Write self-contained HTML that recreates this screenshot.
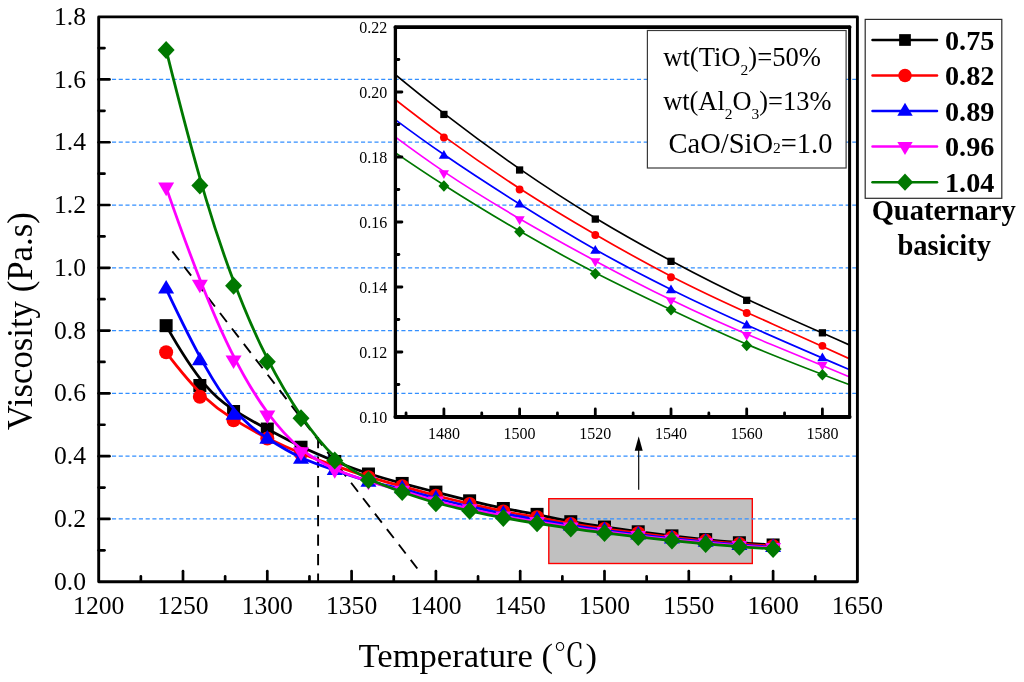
<!DOCTYPE html>
<html><head><meta charset="utf-8"><title>Viscosity vs Temperature</title>
<style>html,body{margin:0;padding:0;background:#fff}body{width:1024px;height:682px;overflow:hidden}</style></head>
<body>
<svg width="1024" height="682" viewBox="0 0 1024 682" style="display:block;font-family:'Liberation Serif','Noto Serif CJK SC',serif">
<rect width="1024" height="682" fill="#fff"/>
<rect x="548.8" y="498.7" width="203.5" height="64.8" fill="#c0c0c0" stroke="#ff0000" stroke-width="1.4"/>
<line x1="112" x2="856" y1="518.92" y2="518.92" stroke="#338fff" stroke-width="1.25" stroke-dasharray="4.1 2.63"/>
<line x1="112" x2="856" y1="456.14" y2="456.14" stroke="#338fff" stroke-width="1.25" stroke-dasharray="4.1 2.63"/>
<line x1="112" x2="856" y1="393.36" y2="393.36" stroke="#338fff" stroke-width="1.25" stroke-dasharray="4.1 2.63"/>
<line x1="112" x2="856" y1="330.58" y2="330.58" stroke="#338fff" stroke-width="1.25" stroke-dasharray="4.1 2.63"/>
<line x1="112" x2="856" y1="267.80" y2="267.80" stroke="#338fff" stroke-width="1.25" stroke-dasharray="4.1 2.63"/>
<line x1="112" x2="856" y1="205.02" y2="205.02" stroke="#338fff" stroke-width="1.25" stroke-dasharray="4.1 2.63"/>
<line x1="112" x2="856" y1="142.24" y2="142.24" stroke="#338fff" stroke-width="1.25" stroke-dasharray="4.1 2.63"/>
<line x1="112" x2="856" y1="79.46" y2="79.46" stroke="#338fff" stroke-width="1.25" stroke-dasharray="4.1 2.63"/>
<line x1="172.3" y1="251.3" x2="417.3" y2="568.5" stroke="#000" stroke-width="1.9" stroke-dasharray="11.3 8.2"/>
<line x1="318.1" y1="437" x2="318.1" y2="581" stroke="#000" stroke-width="1.9" stroke-dasharray="11.3 8.2"/>
<path d="M166.14 325.66 C199.86 385.50 216.72 398.50 230.77 407.93 C244.82 417.35 256.06 423.20 267.30 429.15 C278.54 435.11 289.78 441.16 301.02 446.57 C312.26 451.97 323.50 456.72 334.74 461.19 C345.98 465.65 357.22 469.83 368.46 473.49 C379.70 477.15 390.94 480.29 402.18 483.31 C413.42 486.33 424.66 489.22 435.90 492.12 C447.14 495.01 458.38 497.90 469.62 500.63 C480.86 503.36 492.10 505.93 503.34 508.19 C514.58 510.46 525.82 512.41 537.06 514.61 C548.30 516.80 559.54 519.25 570.78 521.36 C582.02 523.48 593.26 525.26 604.50 526.95 C615.74 528.63 626.98 530.20 638.22 531.67 C649.46 533.14 660.70 534.50 671.94 535.80 C683.18 537.11 694.42 538.36 708.47 539.77 C722.52 541.18 739.38 542.75 773.10 544.97" fill="none" stroke="#000000" stroke-width="2.8" stroke-linejoin="round"/>
<rect x="159.64" y="319.16" width="13.00" height="13.00" fill="#000000"/>
<rect x="193.36" y="379.00" width="13.00" height="13.00" fill="#000000"/>
<rect x="227.08" y="405.00" width="13.00" height="13.00" fill="#000000"/>
<rect x="260.80" y="422.55" width="13.00" height="13.00" fill="#000000"/>
<rect x="294.52" y="440.72" width="13.00" height="13.00" fill="#000000"/>
<rect x="328.24" y="454.98" width="13.00" height="13.00" fill="#000000"/>
<rect x="361.96" y="467.51" width="13.00" height="13.00" fill="#000000"/>
<rect x="395.68" y="476.94" width="13.00" height="13.00" fill="#000000"/>
<rect x="429.40" y="485.62" width="13.00" height="13.00" fill="#000000"/>
<rect x="463.12" y="494.30" width="13.00" height="13.00" fill="#000000"/>
<rect x="496.84" y="502.00" width="13.00" height="13.00" fill="#000000"/>
<rect x="530.56" y="507.86" width="13.00" height="13.00" fill="#000000"/>
<rect x="564.28" y="515.19" width="13.00" height="13.00" fill="#000000"/>
<rect x="598.00" y="520.55" width="13.00" height="13.00" fill="#000000"/>
<rect x="631.72" y="525.28" width="13.00" height="13.00" fill="#000000"/>
<rect x="665.44" y="529.35" width="13.00" height="13.00" fill="#000000"/>
<rect x="699.16" y="533.11" width="13.00" height="13.00" fill="#000000"/>
<rect x="732.88" y="536.25" width="13.00" height="13.00" fill="#000000"/>
<rect x="766.60" y="538.47" width="13.00" height="13.00" fill="#000000"/>
<path d="M166.14 352.29 C199.86 396.78 216.72 408.53 230.77 417.43 C244.82 426.33 256.06 432.39 267.30 437.98 C278.54 443.57 289.78 448.68 301.02 453.23 C312.26 457.77 323.50 461.74 334.74 465.65 C345.98 469.57 357.22 473.43 368.46 476.85 C379.70 480.27 390.94 483.24 402.18 486.31 C413.42 489.38 424.66 492.55 435.90 495.52 C447.14 498.48 458.38 501.25 469.62 503.88 C480.86 506.51 492.10 509.01 503.34 511.21 C514.58 513.41 525.82 515.31 537.06 517.38 C548.30 519.44 559.54 521.68 570.78 523.63 C582.02 525.59 593.26 527.26 604.50 528.83 C615.74 530.39 626.98 531.85 638.22 533.26 C649.46 534.67 660.70 536.03 671.94 537.28 C683.18 538.54 694.42 539.69 708.47 541.05 C722.52 542.42 739.38 544.00 773.10 546.13" fill="none" stroke="#ff0000" stroke-width="2.8" stroke-linejoin="round"/>
<circle cx="166.14" cy="352.29" r="7.00" fill="#ff0000"/>
<circle cx="199.86" cy="396.78" r="7.00" fill="#ff0000"/>
<circle cx="233.58" cy="420.28" r="7.00" fill="#ff0000"/>
<circle cx="267.30" cy="438.45" r="7.00" fill="#ff0000"/>
<circle cx="301.02" cy="453.80" r="7.00" fill="#ff0000"/>
<circle cx="334.74" cy="465.71" r="7.00" fill="#ff0000"/>
<circle cx="368.46" cy="477.30" r="7.00" fill="#ff0000"/>
<circle cx="402.18" cy="486.22" r="7.00" fill="#ff0000"/>
<circle cx="435.90" cy="495.72" r="7.00" fill="#ff0000"/>
<circle cx="469.62" cy="504.01" r="7.00" fill="#ff0000"/>
<circle cx="503.34" cy="511.51" r="7.00" fill="#ff0000"/>
<circle cx="537.06" cy="517.21" r="7.00" fill="#ff0000"/>
<circle cx="570.78" cy="523.92" r="7.00" fill="#ff0000"/>
<circle cx="604.50" cy="528.93" r="7.00" fill="#ff0000"/>
<circle cx="638.22" cy="533.32" r="7.00" fill="#ff0000"/>
<circle cx="671.94" cy="537.39" r="7.00" fill="#ff0000"/>
<circle cx="705.66" cy="540.83" r="7.00" fill="#ff0000"/>
<circle cx="739.38" cy="544.00" r="7.00" fill="#ff0000"/>
<circle cx="773.10" cy="546.13" r="7.00" fill="#ff0000"/>
<path d="M166.14 288.82 C199.86 360.56 216.72 387.74 230.77 405.32 C244.82 422.91 256.06 430.90 267.30 438.23 C278.54 445.57 289.78 452.25 301.02 457.46 C312.26 462.66 323.50 466.37 334.74 470.22 C345.98 474.06 357.22 478.03 368.46 481.09 C379.70 484.15 390.94 486.30 402.18 489.06 C413.42 491.83 424.66 495.22 435.90 498.25 C447.14 501.27 458.38 503.93 469.62 506.49 C480.86 509.04 492.10 511.48 503.34 513.63 C514.58 515.78 525.82 517.64 537.06 519.60 C548.30 521.55 559.54 523.61 570.78 525.43 C582.02 527.24 593.26 528.80 604.50 530.33 C615.74 531.85 626.98 533.34 638.22 534.72 C649.46 536.09 660.70 537.37 671.94 538.57 C683.18 539.77 694.42 540.90 708.47 542.25 C722.52 543.61 739.38 545.19 773.10 547.23" fill="none" stroke="#0000ff" stroke-width="2.8" stroke-linejoin="round"/>
<polygon points="166.14,280.02 158.14,293.62 174.14,293.62" fill="#0000ff"/>
<polygon points="199.86,351.76 191.86,365.36 207.86,365.36" fill="#0000ff"/>
<polygon points="233.58,406.12 225.58,419.72 241.58,419.72" fill="#0000ff"/>
<polygon points="267.30,430.09 259.30,443.69 275.30,443.69" fill="#0000ff"/>
<polygon points="301.02,450.14 293.02,463.74 309.02,463.74" fill="#0000ff"/>
<polygon points="334.74,461.29 326.74,474.89 342.74,474.89" fill="#0000ff"/>
<polygon points="368.46,473.20 360.46,486.80 376.46,486.80" fill="#0000ff"/>
<polygon points="402.18,479.65 394.18,493.25 410.18,493.25" fill="#0000ff"/>
<polygon points="435.90,489.81 427.90,503.41 443.90,503.41" fill="#0000ff"/>
<polygon points="469.62,497.80 461.62,511.40 477.62,511.40" fill="#0000ff"/>
<polygon points="503.34,505.13 495.34,518.73 511.34,518.73" fill="#0000ff"/>
<polygon points="537.06,510.70 529.06,524.30 545.06,524.30" fill="#0000ff"/>
<polygon points="570.78,516.87 562.78,530.47 578.78,530.47" fill="#0000ff"/>
<polygon points="604.50,521.57 596.50,535.17 612.50,535.17" fill="#0000ff"/>
<polygon points="638.22,526.02 630.22,539.62 646.22,539.62" fill="#0000ff"/>
<polygon points="671.94,529.84 663.94,543.44 679.94,543.44" fill="#0000ff"/>
<polygon points="705.66,533.23 697.66,546.83 713.66,546.83" fill="#0000ff"/>
<polygon points="739.38,536.39 731.38,549.99 747.38,549.99" fill="#0000ff"/>
<polygon points="773.10,538.43 765.10,552.03 781.10,552.03" fill="#0000ff"/>
<path d="M166.14 187.37 C199.86 284.49 216.72 322.40 230.77 350.52 C244.82 378.64 256.06 396.97 267.30 412.27 C278.54 427.57 289.78 439.84 301.02 448.95 C312.26 458.06 323.50 464.01 334.74 468.92 C345.98 473.83 357.22 477.69 368.46 481.13 C379.70 484.57 390.94 487.57 402.18 490.88 C413.42 494.18 424.66 497.78 435.90 500.86 C447.14 503.94 458.38 506.51 469.62 508.98 C480.86 511.46 492.10 513.85 503.34 515.95 C514.58 518.05 525.82 519.87 537.06 521.72 C548.30 523.58 559.54 525.47 570.78 527.16 C582.02 528.85 593.26 530.33 604.50 531.74 C615.74 533.16 626.98 534.51 638.22 535.81 C649.46 537.12 660.70 538.38 671.94 539.57 C683.18 540.75 694.42 541.86 708.47 543.13 C722.52 544.41 739.38 545.85 773.10 547.85" fill="none" stroke="#ff00ff" stroke-width="2.8" stroke-linejoin="round"/>
<polygon points="166.14,196.17 158.14,182.57 174.14,182.57" fill="#ff00ff"/>
<polygon points="199.86,293.29 191.86,279.69 207.86,279.69" fill="#ff00ff"/>
<polygon points="233.58,369.11 225.58,355.51 241.58,355.51" fill="#ff00ff"/>
<polygon points="267.30,424.10 259.30,410.50 275.30,410.50" fill="#ff00ff"/>
<polygon points="301.02,460.91 293.02,447.31 309.02,447.31" fill="#ff00ff"/>
<polygon points="334.74,478.77 326.74,465.17 342.74,465.17" fill="#ff00ff"/>
<polygon points="368.46,490.36 360.46,476.76 376.46,476.76" fill="#ff00ff"/>
<polygon points="402.18,499.38 394.18,485.78 410.18,485.78" fill="#ff00ff"/>
<polygon points="435.90,510.17 427.90,496.57 443.90,496.57" fill="#ff00ff"/>
<polygon points="469.62,517.87 461.62,504.27 477.62,504.27" fill="#ff00ff"/>
<polygon points="503.34,525.04 495.34,511.44 511.34,511.44" fill="#ff00ff"/>
<polygon points="537.06,530.48 529.06,516.88 545.06,516.88" fill="#ff00ff"/>
<polygon points="570.78,536.16 562.78,522.56 578.78,522.56" fill="#ff00ff"/>
<polygon points="604.50,540.61 596.50,527.01 612.50,527.01" fill="#ff00ff"/>
<polygon points="638.22,544.65 630.22,531.05 646.22,531.05" fill="#ff00ff"/>
<polygon points="671.94,548.44 663.94,534.84 679.94,534.84" fill="#ff00ff"/>
<polygon points="705.66,551.77 697.66,538.17 713.66,538.17" fill="#ff00ff"/>
<polygon points="739.38,554.65 731.38,541.05 747.38,541.05" fill="#ff00ff"/>
<polygon points="773.10,556.65 765.10,543.05 781.10,543.05" fill="#ff00ff"/>
<path d="M166.14 49.96 C199.86 185.62 216.72 235.74 230.77 273.44 C244.82 311.14 256.06 336.42 267.30 358.47 C278.54 380.52 289.78 399.35 301.02 415.82 C312.26 432.29 323.50 446.40 334.74 456.69 C345.98 466.98 357.22 473.45 368.46 478.72 C379.70 483.99 390.94 488.05 402.18 491.96 C413.42 495.87 424.66 499.62 435.90 502.74 C447.14 505.86 458.38 508.36 469.62 510.78 C480.86 513.20 492.10 515.55 503.34 517.62 C514.58 519.69 525.82 521.47 537.06 523.25 C548.30 525.03 559.54 526.81 570.78 528.43 C582.02 530.06 593.26 531.53 604.50 532.94 C615.74 534.35 626.98 535.70 638.22 536.95 C649.46 538.20 660.70 539.36 671.94 540.52 C683.18 541.67 694.42 542.82 708.47 544.10 C722.52 545.38 739.38 546.79 773.10 548.89" fill="none" stroke="#007800" stroke-width="2.8" stroke-linejoin="round"/>
<polygon points="166.14,40.96 174.64,49.96 166.14,58.96 157.64,49.96" fill="#007800"/>
<polygon points="199.86,176.62 208.36,185.62 199.86,194.62 191.36,185.62" fill="#007800"/>
<polygon points="233.58,276.87 242.08,285.87 233.58,294.87 225.08,285.87" fill="#007800"/>
<polygon points="267.30,352.69 275.80,361.69 267.30,370.69 258.80,361.69" fill="#007800"/>
<polygon points="301.02,409.18 309.52,418.18 301.02,427.18 292.52,418.18" fill="#007800"/>
<polygon points="334.74,451.50 343.24,460.50 334.74,469.50 326.24,460.50" fill="#007800"/>
<polygon points="368.46,470.93 376.96,479.93 368.46,488.93 359.96,479.93" fill="#007800"/>
<polygon points="402.18,483.12 410.68,492.12 402.18,501.12 393.68,492.12" fill="#007800"/>
<polygon points="435.90,494.36 444.40,503.36 435.90,512.36 427.40,503.36" fill="#007800"/>
<polygon points="469.62,501.85 478.12,510.85 469.62,519.85 461.12,510.85" fill="#007800"/>
<polygon points="503.34,508.90 511.84,517.90 503.34,526.90 494.84,517.90" fill="#007800"/>
<polygon points="537.06,514.26 545.56,523.26 537.06,532.26 528.56,523.26" fill="#007800"/>
<polygon points="570.78,519.58 579.28,528.58 570.78,537.58 562.28,528.58" fill="#007800"/>
<polygon points="604.50,524.00 613.00,533.00 604.50,542.00 596.00,533.00" fill="#007800"/>
<polygon points="638.22,528.04 646.72,537.04 638.22,546.04 629.72,537.04" fill="#007800"/>
<polygon points="671.94,531.52 680.44,540.52 671.94,549.52 663.44,540.52" fill="#007800"/>
<polygon points="705.66,534.97 714.16,543.97 705.66,552.97 697.16,543.97" fill="#007800"/>
<polygon points="739.38,537.79 747.88,546.79 739.38,555.79 730.88,546.79" fill="#007800"/>
<polygon points="773.10,539.89 781.60,548.89 773.10,557.89 764.60,548.89" fill="#007800"/>
<line x1="638.7" y1="489.8" x2="638.7" y2="449" stroke="#000" stroke-width="1.15"/>
<polygon points="638.7,436.2 634.7,450.7 642.7,450.7" fill="#000"/>
<rect x="98.7" y="16.9" width="758.7" height="564.8" fill="none" stroke="#000" stroke-width="2.9" stroke-linejoin="round"/>
<line x1="98.7" x2="104.5" y1="550.31" y2="550.31" stroke="#000" stroke-width="2.7" stroke-linecap="round"/>
<line x1="98.7" x2="109.5" y1="518.92" y2="518.92" stroke="#000" stroke-width="2.7" stroke-linecap="round"/>
<line x1="98.7" x2="104.5" y1="487.53" y2="487.53" stroke="#000" stroke-width="2.7" stroke-linecap="round"/>
<line x1="98.7" x2="109.5" y1="456.14" y2="456.14" stroke="#000" stroke-width="2.7" stroke-linecap="round"/>
<line x1="98.7" x2="104.5" y1="424.75" y2="424.75" stroke="#000" stroke-width="2.7" stroke-linecap="round"/>
<line x1="98.7" x2="109.5" y1="393.36" y2="393.36" stroke="#000" stroke-width="2.7" stroke-linecap="round"/>
<line x1="98.7" x2="104.5" y1="361.97" y2="361.97" stroke="#000" stroke-width="2.7" stroke-linecap="round"/>
<line x1="98.7" x2="109.5" y1="330.58" y2="330.58" stroke="#000" stroke-width="2.7" stroke-linecap="round"/>
<line x1="98.7" x2="104.5" y1="299.19" y2="299.19" stroke="#000" stroke-width="2.7" stroke-linecap="round"/>
<line x1="98.7" x2="109.5" y1="267.80" y2="267.80" stroke="#000" stroke-width="2.7" stroke-linecap="round"/>
<line x1="98.7" x2="104.5" y1="236.41" y2="236.41" stroke="#000" stroke-width="2.7" stroke-linecap="round"/>
<line x1="98.7" x2="109.5" y1="205.02" y2="205.02" stroke="#000" stroke-width="2.7" stroke-linecap="round"/>
<line x1="98.7" x2="104.5" y1="173.63" y2="173.63" stroke="#000" stroke-width="2.7" stroke-linecap="round"/>
<line x1="98.7" x2="109.5" y1="142.24" y2="142.24" stroke="#000" stroke-width="2.7" stroke-linecap="round"/>
<line x1="98.7" x2="104.5" y1="110.85" y2="110.85" stroke="#000" stroke-width="2.7" stroke-linecap="round"/>
<line x1="98.7" x2="109.5" y1="79.46" y2="79.46" stroke="#000" stroke-width="2.7" stroke-linecap="round"/>
<line x1="98.7" x2="104.5" y1="48.07" y2="48.07" stroke="#000" stroke-width="2.7" stroke-linecap="round"/>
<line x1="140.85" x2="140.85" y1="581.7" y2="576.4" stroke="#000" stroke-width="2.7" stroke-linecap="round"/>
<line x1="183.00" x2="183.00" y1="581.7" y2="571.2" stroke="#000" stroke-width="2.7" stroke-linecap="round"/>
<line x1="225.15" x2="225.15" y1="581.7" y2="576.4" stroke="#000" stroke-width="2.7" stroke-linecap="round"/>
<line x1="267.30" x2="267.30" y1="581.7" y2="571.2" stroke="#000" stroke-width="2.7" stroke-linecap="round"/>
<line x1="309.45" x2="309.45" y1="581.7" y2="576.4" stroke="#000" stroke-width="2.7" stroke-linecap="round"/>
<line x1="351.60" x2="351.60" y1="581.7" y2="571.2" stroke="#000" stroke-width="2.7" stroke-linecap="round"/>
<line x1="393.75" x2="393.75" y1="581.7" y2="576.4" stroke="#000" stroke-width="2.7" stroke-linecap="round"/>
<line x1="435.90" x2="435.90" y1="581.7" y2="571.2" stroke="#000" stroke-width="2.7" stroke-linecap="round"/>
<line x1="478.05" x2="478.05" y1="581.7" y2="576.4" stroke="#000" stroke-width="2.7" stroke-linecap="round"/>
<line x1="520.20" x2="520.20" y1="581.7" y2="571.2" stroke="#000" stroke-width="2.7" stroke-linecap="round"/>
<line x1="562.35" x2="562.35" y1="581.7" y2="576.4" stroke="#000" stroke-width="2.7" stroke-linecap="round"/>
<line x1="604.50" x2="604.50" y1="581.7" y2="571.2" stroke="#000" stroke-width="2.7" stroke-linecap="round"/>
<line x1="646.65" x2="646.65" y1="581.7" y2="576.4" stroke="#000" stroke-width="2.7" stroke-linecap="round"/>
<line x1="688.80" x2="688.80" y1="581.7" y2="571.2" stroke="#000" stroke-width="2.7" stroke-linecap="round"/>
<line x1="730.95" x2="730.95" y1="581.7" y2="576.4" stroke="#000" stroke-width="2.7" stroke-linecap="round"/>
<line x1="773.10" x2="773.10" y1="581.7" y2="571.2" stroke="#000" stroke-width="2.7" stroke-linecap="round"/>
<line x1="815.25" x2="815.25" y1="581.7" y2="576.4" stroke="#000" stroke-width="2.7" stroke-linecap="round"/>
<text x="86" y="589.7" font-size="25.6" text-anchor="end">0.0</text>
<text x="86" y="526.9" font-size="25.6" text-anchor="end">0.2</text>
<text x="86" y="464.1" font-size="25.6" text-anchor="end">0.4</text>
<text x="86" y="401.4" font-size="25.6" text-anchor="end">0.6</text>
<text x="86" y="338.6" font-size="25.6" text-anchor="end">0.8</text>
<text x="86" y="275.8" font-size="25.6" text-anchor="end">1.0</text>
<text x="86" y="213.0" font-size="25.6" text-anchor="end">1.2</text>
<text x="86" y="150.2" font-size="25.6" text-anchor="end">1.4</text>
<text x="86" y="87.5" font-size="25.6" text-anchor="end">1.6</text>
<text x="86" y="24.7" font-size="25.6" text-anchor="end">1.8</text>
<text x="98.7" y="614.3" font-size="25.6" text-anchor="middle">1200</text>
<text x="183.0" y="614.3" font-size="25.6" text-anchor="middle">1250</text>
<text x="267.3" y="614.3" font-size="25.6" text-anchor="middle">1300</text>
<text x="351.6" y="614.3" font-size="25.6" text-anchor="middle">1350</text>
<text x="435.9" y="614.3" font-size="25.6" text-anchor="middle">1400</text>
<text x="520.2" y="614.3" font-size="25.6" text-anchor="middle">1450</text>
<text x="604.5" y="614.3" font-size="25.6" text-anchor="middle">1500</text>
<text x="688.8" y="614.3" font-size="25.6" text-anchor="middle">1550</text>
<text x="773.1" y="614.3" font-size="25.6" text-anchor="middle">1600</text>
<text x="857.4" y="614.3" font-size="25.6" text-anchor="middle">1650</text>
<text y="666.6" font-size="34.6"><tspan x="358.6">Temperature (</tspan><tspan x="553.5" font-size="31" dy="-1">℃</tspan><tspan x="585.6" dy="1">)</tspan></text>
<text transform="translate(31.6,430.2) rotate(-90)" font-size="34.75">Viscosity (Pa.s)</text>
<clipPath id="ic"><rect x="395.4" y="27.1" width="454.2" height="389.9"/></clipPath>
<g clip-path="url(#ic)">
<path d="M216.80 -90.00 C292.50 -13.62 330.35 19.69 361.89 46.58 C393.43 73.48 418.67 93.95 443.90 113.45 C469.13 132.95 494.37 151.47 519.60 168.92 C544.83 186.36 570.07 202.72 595.30 217.94 C620.53 233.16 645.77 247.24 671.00 260.78 C696.23 274.33 721.47 287.32 753.01 301.95 C784.55 316.58 822.40 332.82 898.10 366.62" fill="none" stroke="#000000" stroke-width="1.7"/>
<rect x="213.16" y="-93.64" width="7.28" height="7.28" fill="#000000"/>
<rect x="288.86" y="-17.27" width="7.28" height="7.28" fill="#000000"/>
<rect x="364.56" y="49.36" width="7.28" height="7.28" fill="#000000"/>
<rect x="440.26" y="110.79" width="7.28" height="7.28" fill="#000000"/>
<rect x="515.96" y="166.36" width="7.28" height="7.28" fill="#000000"/>
<rect x="591.66" y="215.44" width="7.28" height="7.28" fill="#000000"/>
<rect x="667.36" y="257.69" width="7.28" height="7.28" fill="#000000"/>
<rect x="743.06" y="296.69" width="7.28" height="7.28" fill="#000000"/>
<rect x="818.76" y="329.19" width="7.28" height="7.28" fill="#000000"/>
<rect x="894.46" y="362.99" width="7.28" height="7.28" fill="#000000"/>
<path d="M216.80 -57.50 C292.50 15.63 330.35 47.31 361.89 72.91 C393.43 98.50 418.67 118.00 443.90 136.42 C469.13 154.83 494.37 172.17 519.60 188.42 C544.83 204.67 570.07 219.83 595.30 234.46 C620.53 249.08 645.77 263.17 671.00 276.17 C696.23 289.17 721.47 301.08 753.01 315.25 C784.55 329.41 822.40 345.82 898.10 381.25" fill="none" stroke="#ff0000" stroke-width="1.7"/>
<circle cx="216.80" cy="-57.50" r="3.92" fill="#ff0000"/>
<circle cx="292.50" cy="15.62" r="3.92" fill="#ff0000"/>
<circle cx="368.20" cy="79.00" r="3.92" fill="#ff0000"/>
<circle cx="443.90" cy="137.50" r="3.92" fill="#ff0000"/>
<circle cx="519.60" cy="189.50" r="3.92" fill="#ff0000"/>
<circle cx="595.30" cy="235.00" r="3.92" fill="#ff0000"/>
<circle cx="671.00" cy="277.25" r="3.92" fill="#ff0000"/>
<circle cx="746.70" cy="313.00" r="3.92" fill="#ff0000"/>
<circle cx="822.40" cy="345.83" r="3.92" fill="#ff0000"/>
<circle cx="898.10" cy="381.25" r="3.92" fill="#ff0000"/>
<path d="M216.80 -31.50 C292.50 40.00 330.35 70.06 361.89 94.36 C393.43 118.65 418.67 137.17 443.90 154.56 C469.13 171.95 494.37 188.20 519.60 204.02 C544.83 219.83 570.07 235.22 595.30 249.52 C620.53 263.82 645.77 277.03 671.00 289.49 C696.23 301.95 721.47 313.65 753.01 327.71 C784.55 341.76 822.40 358.17 898.10 390.35" fill="none" stroke="#0000ff" stroke-width="1.7"/>
<polygon points="216.80,-37.13 211.68,-28.43 221.92,-28.43" fill="#0000ff"/>
<polygon points="292.50,34.37 287.38,43.07 297.62,43.07" fill="#0000ff"/>
<polygon points="368.20,94.49 363.08,103.20 373.32,103.20" fill="#0000ff"/>
<polygon points="443.90,150.07 438.78,158.77 449.02,158.77" fill="#0000ff"/>
<polygon points="519.60,198.82 514.48,207.52 524.72,207.52" fill="#0000ff"/>
<polygon points="595.30,244.97 590.18,253.67 600.42,253.67" fill="#0000ff"/>
<polygon points="671.00,284.62 665.88,293.32 676.12,293.32" fill="#0000ff"/>
<polygon points="746.70,319.72 741.58,328.42 751.82,328.42" fill="#0000ff"/>
<polygon points="822.40,352.54 817.28,361.25 827.52,361.25" fill="#0000ff"/>
<polygon points="898.10,384.72 892.98,393.42 903.22,393.42" fill="#0000ff"/>
<path d="M216.80 -8.75 C292.50 57.88 330.35 87.61 361.89 111.80 C393.43 135.98 418.67 154.62 443.90 171.62 C469.13 188.63 494.37 204.02 519.60 218.70 C544.83 233.38 570.07 247.35 595.30 260.89 C620.53 274.43 645.77 287.54 671.00 299.84 C696.23 312.13 721.47 323.62 753.01 336.83 C784.55 350.05 822.40 365.00 898.10 397.50" fill="none" stroke="#ff00ff" stroke-width="1.7"/>
<polygon points="216.80,-3.12 211.68,-11.82 221.92,-11.82" fill="#ff00ff"/>
<polygon points="292.50,63.51 287.38,54.80 297.62,54.80" fill="#ff00ff"/>
<polygon points="368.20,122.98 363.08,114.28 373.32,114.28" fill="#ff00ff"/>
<polygon points="443.90,178.88 438.78,170.18 449.02,170.18" fill="#ff00ff"/>
<polygon points="519.60,225.03 514.48,216.33 524.72,216.33" fill="#ff00ff"/>
<polygon points="595.30,266.96 590.18,258.25 600.42,258.25" fill="#ff00ff"/>
<polygon points="671.00,306.28 665.88,297.58 676.12,297.58" fill="#ff00ff"/>
<polygon points="746.70,340.73 741.58,332.03 751.82,332.03" fill="#ff00ff"/>
<polygon points="822.40,370.63 817.28,361.93 827.52,361.93" fill="#ff00ff"/>
<polygon points="898.10,403.13 892.98,394.43 903.22,394.43" fill="#ff00ff"/>
<path d="M216.80 14.33 C292.50 79.00 330.35 106.79 361.89 129.24 C393.43 151.69 418.67 168.81 443.90 185.00 C469.13 201.20 494.37 216.47 519.60 231.10 C544.83 245.73 570.07 259.70 595.30 272.70 C620.53 285.70 645.77 297.72 671.00 309.70 C696.23 321.67 721.47 333.58 753.01 346.85 C784.55 360.13 822.40 374.75 898.10 403.02" fill="none" stroke="#007800" stroke-width="1.7"/>
<polygon points="216.80,8.57 222.24,14.33 216.80,20.09 211.36,14.33" fill="#007800"/>
<polygon points="292.50,73.24 297.94,79.00 292.50,84.76 287.06,79.00" fill="#007800"/>
<polygon points="368.20,128.81 373.64,134.57 368.20,140.33 362.76,134.57" fill="#007800"/>
<polygon points="443.90,180.17 449.34,185.93 443.90,191.69 438.46,185.93" fill="#007800"/>
<polygon points="519.60,225.99 525.04,231.75 519.60,237.51 514.16,231.75" fill="#007800"/>
<polygon points="595.30,267.92 600.74,273.68 595.30,279.44 589.86,273.68" fill="#007800"/>
<polygon points="671.00,303.99 676.44,309.75 671.00,315.51 665.56,309.75" fill="#007800"/>
<polygon points="746.70,339.74 752.14,345.50 746.70,351.26 741.26,345.50" fill="#007800"/>
<polygon points="822.40,368.99 827.84,374.75 822.40,380.51 816.96,374.75" fill="#007800"/>
<polygon points="898.10,397.26 903.54,403.02 898.10,408.78 892.66,403.02" fill="#007800"/>
</g>
<path d="M395.4 27.1 H849.6" stroke="#000" stroke-width="3.8" stroke-linecap="round" fill="none"/>
<path d="M395.4 417.0 H849.6" stroke="#000" stroke-width="3.9" stroke-linecap="round" fill="none"/>
<path d="M395.4 27.1 V417.0" stroke="#000" stroke-width="3.3" stroke-linecap="round" fill="none"/>
<path d="M849.6 27.1 V417.0" stroke="#000" stroke-width="3.0" stroke-linecap="round" fill="none"/>
<text x="387.3" y="422.7" font-size="16" text-anchor="end">0.10</text>
<line x1="395.4" x2="398.9" y1="384.50" y2="384.50" stroke="#000" stroke-width="2.8" stroke-linecap="round"/>
<line x1="395.4" x2="401.9" y1="352.00" y2="352.00" stroke="#000" stroke-width="2.8" stroke-linecap="round"/>
<text x="387.3" y="357.7" font-size="16" text-anchor="end">0.12</text>
<line x1="395.4" x2="398.9" y1="319.50" y2="319.50" stroke="#000" stroke-width="2.8" stroke-linecap="round"/>
<line x1="395.4" x2="401.9" y1="287.00" y2="287.00" stroke="#000" stroke-width="2.8" stroke-linecap="round"/>
<text x="387.3" y="292.7" font-size="16" text-anchor="end">0.14</text>
<line x1="395.4" x2="398.9" y1="254.50" y2="254.50" stroke="#000" stroke-width="2.8" stroke-linecap="round"/>
<line x1="395.4" x2="401.9" y1="222.00" y2="222.00" stroke="#000" stroke-width="2.8" stroke-linecap="round"/>
<text x="387.3" y="227.7" font-size="16" text-anchor="end">0.16</text>
<line x1="395.4" x2="398.9" y1="189.50" y2="189.50" stroke="#000" stroke-width="2.8" stroke-linecap="round"/>
<line x1="395.4" x2="401.9" y1="157.00" y2="157.00" stroke="#000" stroke-width="2.8" stroke-linecap="round"/>
<text x="387.3" y="162.7" font-size="16" text-anchor="end">0.18</text>
<line x1="395.4" x2="398.9" y1="124.50" y2="124.50" stroke="#000" stroke-width="2.8" stroke-linecap="round"/>
<line x1="395.4" x2="401.9" y1="92.00" y2="92.00" stroke="#000" stroke-width="2.8" stroke-linecap="round"/>
<text x="387.3" y="97.7" font-size="16" text-anchor="end">0.20</text>
<line x1="395.4" x2="398.9" y1="59.50" y2="59.50" stroke="#000" stroke-width="2.8" stroke-linecap="round"/>
<text x="387.3" y="32.7" font-size="16" text-anchor="end">0.22</text>
<line x1="406.05" x2="406.05" y1="417" y2="413.0" stroke="#000" stroke-width="2.8" stroke-linecap="round"/>
<line x1="443.90" x2="443.90" y1="417" y2="409.0" stroke="#000" stroke-width="2.8" stroke-linecap="round"/>
<text x="443.9" y="439.4" font-size="16" text-anchor="middle">1480</text>
<line x1="481.75" x2="481.75" y1="417" y2="413.0" stroke="#000" stroke-width="2.8" stroke-linecap="round"/>
<line x1="519.60" x2="519.60" y1="417" y2="409.0" stroke="#000" stroke-width="2.8" stroke-linecap="round"/>
<text x="519.6" y="439.4" font-size="16" text-anchor="middle">1500</text>
<line x1="557.45" x2="557.45" y1="417" y2="413.0" stroke="#000" stroke-width="2.8" stroke-linecap="round"/>
<line x1="595.30" x2="595.30" y1="417" y2="409.0" stroke="#000" stroke-width="2.8" stroke-linecap="round"/>
<text x="595.3" y="439.4" font-size="16" text-anchor="middle">1520</text>
<line x1="633.15" x2="633.15" y1="417" y2="413.0" stroke="#000" stroke-width="2.8" stroke-linecap="round"/>
<line x1="671.00" x2="671.00" y1="417" y2="409.0" stroke="#000" stroke-width="2.8" stroke-linecap="round"/>
<text x="671.0" y="439.4" font-size="16" text-anchor="middle">1540</text>
<line x1="708.85" x2="708.85" y1="417" y2="413.0" stroke="#000" stroke-width="2.8" stroke-linecap="round"/>
<line x1="746.70" x2="746.70" y1="417" y2="409.0" stroke="#000" stroke-width="2.8" stroke-linecap="round"/>
<text x="746.7" y="439.4" font-size="16" text-anchor="middle">1560</text>
<line x1="784.55" x2="784.55" y1="417" y2="413.0" stroke="#000" stroke-width="2.8" stroke-linecap="round"/>
<line x1="822.40" x2="822.40" y1="417" y2="409.0" stroke="#000" stroke-width="2.8" stroke-linecap="round"/>
<text x="822.4" y="439.4" font-size="16" text-anchor="middle">1580</text>
<rect x="647.4" y="30.5" width="198.7" height="137.5" fill="#fff" stroke="#3a3a3a" stroke-width="1.2"/>
<text x="663.2" y="66" font-size="26.6">wt(TiO<tspan font-size="15.5" dy="9">2</tspan><tspan dy="-9">)=50%</tspan></text>
<text x="663.2" y="109.5" font-size="26.4">wt(Al<tspan font-size="15.5" dy="9">2</tspan><tspan dy="-9">O</tspan><tspan font-size="15.5" dy="9">3</tspan><tspan dy="-9">)=13%</tspan></text>
<text x="668.5" y="152.5" font-size="28.5">CaO/SiO<tspan font-size="15.5">2</tspan>=1.0</text>
<rect x="865.2" y="19.4" width="136.6" height="178.9" fill="#fff" stroke="#2a2a2a" stroke-width="1.2"/>
<line x1="872.5" x2="937" y1="40.0" y2="40.0" stroke="#000000" stroke-width="2.5" stroke-linecap="round"/>
<rect x="899.15" y="34.15" width="11.70" height="11.70" fill="#000000"/>
<text x="945" y="49.5" font-size="28.2" font-weight="bold">0.75</text>
<line x1="872.5" x2="937" y1="75.5" y2="75.5" stroke="#ff0000" stroke-width="2.5" stroke-linecap="round"/>
<circle cx="905.00" cy="75.55" r="6.72" fill="#ff0000"/>
<text x="945" y="85.0" font-size="28.2" font-weight="bold">0.82</text>
<line x1="872.5" x2="937" y1="111.1" y2="111.1" stroke="#0000ff" stroke-width="2.5" stroke-linecap="round"/>
<polygon points="905.00,102.65 897.32,115.71 912.68,115.71" fill="#0000ff"/>
<text x="945" y="120.6" font-size="28.2" font-weight="bold">0.89</text>
<line x1="872.5" x2="937" y1="146.6" y2="146.6" stroke="#ff00ff" stroke-width="2.5" stroke-linecap="round"/>
<polygon points="905.00,155.10 897.32,142.04 912.68,142.04" fill="#ff00ff"/>
<text x="945" y="156.1" font-size="28.2" font-weight="bold">0.96</text>
<line x1="872.5" x2="937" y1="182.2" y2="182.2" stroke="#007800" stroke-width="2.5" stroke-linecap="round"/>
<polygon points="905.00,173.56 913.16,182.20 905.00,190.84 896.84,182.20" fill="#007800"/>
<text x="945" y="191.7" font-size="28.2" font-weight="bold">1.04</text>
<text x="943.7" y="219.7" font-size="28.5" font-weight="bold" text-anchor="middle">Quaternary</text>
<text x="944.2" y="254.7" font-size="28.5" font-weight="bold" text-anchor="middle">basicity</text>
</svg>
</body></html>
